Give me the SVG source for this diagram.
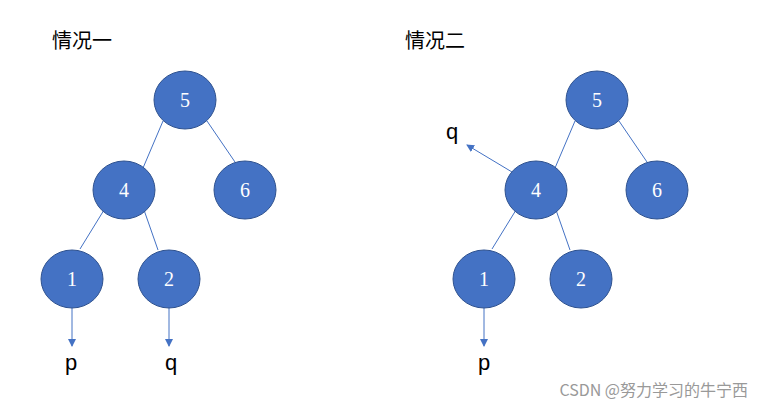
<svg xmlns="http://www.w3.org/2000/svg" width="759" height="409" viewBox="0 0 759 409">
<defs>
<style>
.n{fill:#4472C4;stroke:#2F528F;stroke-width:1}
.t{fill:#fff;font-family:"Liberation Serif",serif;font-size:20px;text-anchor:middle}
.c{stroke:#4472C4;stroke-width:1;fill:none}
.a{stroke:#4472C4;stroke-width:1;fill:none;marker-end:url(#ah)}
.l{font-family:"Liberation Sans",sans-serif;font-size:22px;text-anchor:middle;fill:#000}
.h{font-family:"Noto Sans CJK SC",sans-serif;font-size:20px;fill:#000}
</style>
<marker id="ah" markerWidth="8" markerHeight="8" refX="7" refY="4" orient="auto" markerUnits="userSpaceOnUse">
<path d="M0,0L8,4L0,8z" fill="#4472C4"/>
</marker>
</defs>
<rect width="759" height="409" fill="#fff"/>
<text class="h" x="52" y="48">情况一</text>
<text class="h" x="405" y="48">情况二</text>
<g id="connectors">
<line class="c" x1="163" y1="121" x2="143" y2="168"/>
<line class="c" x1="207" y1="121" x2="235" y2="162"/>
<line class="c" x1="104" y1="210" x2="80" y2="249"/>
<line class="c" x1="144" y1="210" x2="158" y2="250"/>
<line class="a" x1="72" y1="308" x2="72" y2="346"/>
<line class="a" x1="169" y1="308" x2="169" y2="346"/>
<line class="c" x1="575" y1="121" x2="555" y2="168"/>
<line class="c" x1="619" y1="121" x2="647" y2="162"/>
<line class="c" x1="516" y1="210" x2="492" y2="249"/>
<line class="c" x1="556" y1="210" x2="570" y2="250"/>
<line class="a" x1="484" y1="308" x2="484" y2="346"/>
<line class="a" x1="512" y1="172" x2="467" y2="145"/>
</g>
<g id="L5"><ellipse class="n" cx="185" cy="100" rx="31" ry="29"/><text class="t" x="185" y="107">5</text></g>
<g id="L4"><ellipse class="n" cx="124" cy="190" rx="31" ry="29"/><text class="t" x="124" y="197">4</text></g>
<g id="L6"><ellipse class="n" cx="245" cy="190" rx="31" ry="29"/><text class="t" x="245" y="197">6</text></g>
<g id="L1"><ellipse class="n" cx="72" cy="279" rx="31" ry="29"/><text class="t" x="72" y="286">1</text></g>
<g id="L2"><ellipse class="n" cx="169" cy="279" rx="31" ry="29"/><text class="t" x="169" y="286">2</text></g>
<g id="R5"><ellipse class="n" cx="597" cy="100" rx="31" ry="29"/><text class="t" x="597" y="107">5</text></g>
<g id="R4"><ellipse class="n" cx="536" cy="190" rx="31" ry="29"/><text class="t" x="536" y="197">4</text></g>
<g id="R6"><ellipse class="n" cx="657" cy="190" rx="31" ry="29"/><text class="t" x="657" y="197">6</text></g>
<g id="R1"><ellipse class="n" cx="484" cy="279" rx="31" ry="29"/><text class="t" x="484" y="286">1</text></g>
<g id="R2"><ellipse class="n" cx="581" cy="279" rx="31" ry="29"/><text class="t" x="581" y="286">2</text></g>
<text class="l" x="71" y="370">p</text>
<text class="l" x="171" y="370">q</text>
<text class="l" x="484" y="370">p</text>
<text class="l" x="452" y="139">q</text>
<text x="748" y="396" font-family="Noto Sans CJK SC,sans-serif" font-size="16" fill="#999" text-anchor="end">CSDN @努力学习的牛宁西</text>
</svg>
